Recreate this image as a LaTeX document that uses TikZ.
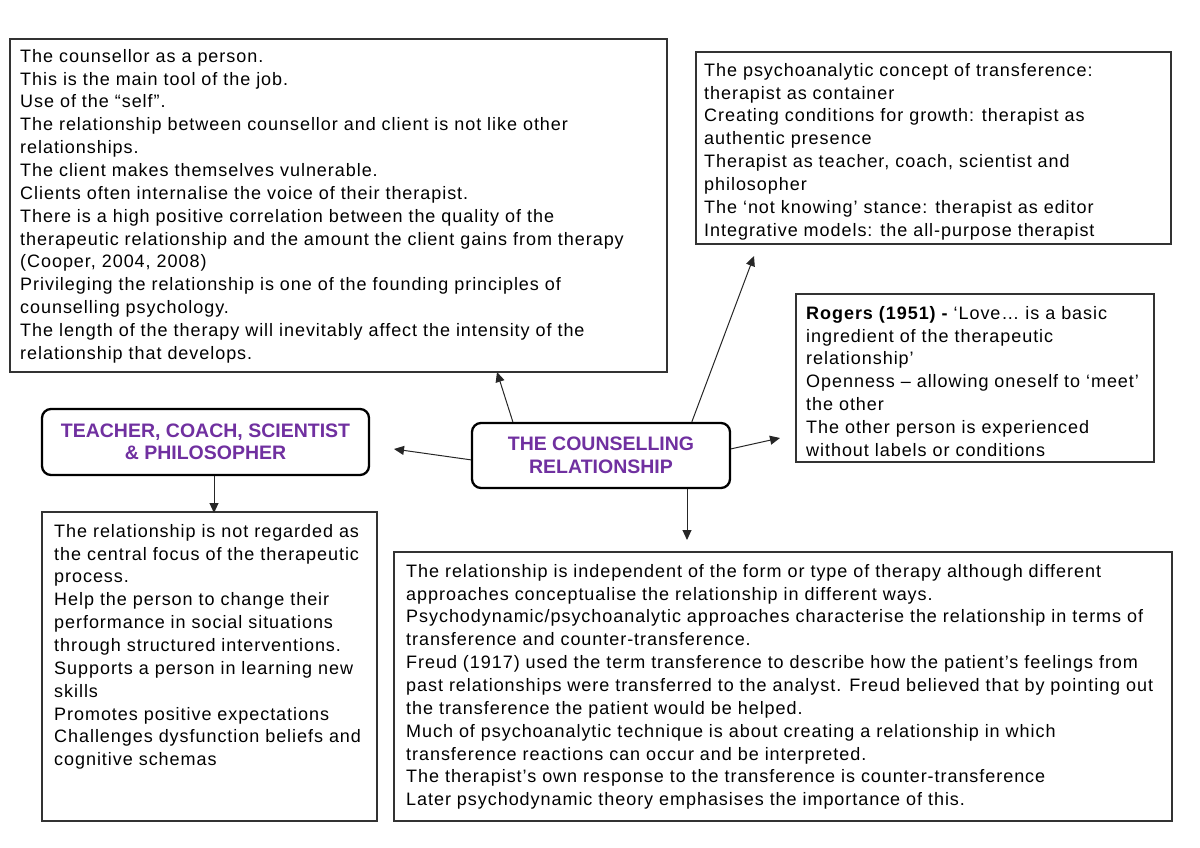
\documentclass[tikz,border=0pt]{standalone}
\usepackage{fontspec}
\setmainfont{Liberation Sans}
\newfontfamily\bodyfont[LetterSpace=5.3]{Liberation Sans}
\newfontfamily\headfont{Liberation Sans}
\usetikzlibrary{arrows.meta,calc}
\definecolor{headpurple}{HTML}{7030A0}
\tikzset{
  plainbox/.style={draw=black!80, line width=1.2pt, fill=white},
  roundbox/.style={draw=black, line width=2.3pt, rounded corners=9pt, fill=white},
  bodytext/.style={font={\bodyfont\fontsize{18}{22.85}\selectfont}, align=left, inner sep=0pt, anchor=north west},
  headtext/.style={font={\headfont\bfseries\fontsize{19.5}{22.5}\selectfont}, text=headpurple, align=center, inner sep=0pt},
  arr/.style={draw=black!85, line width=1pt, -{Triangle[length=10pt,width=9pt]}}
}
\begin{document}
\begin{tikzpicture}[x=1pt,y=-1pt]
\useasboundingbox (0,0) rectangle (1200,848);
% boxes
\draw[plainbox] (10,39) rectangle (667,372);
\draw[plainbox] (696,52) rectangle (1171,244);
\draw[plainbox] (796,294) rectangle (1154,462);
\draw[plainbox] (42,512) rectangle (377,821);
\draw[plainbox] (394,552) rectangle (1172,821);
% central and teacher nodes
\node[roundbox, minimum width=258pt, minimum height=65pt, inner sep=0pt] (c) at (601,455.5) {};
\node[headtext] (ctext) at (c) {THE COUNSELLING\\RELATIONSHIP};
\node[roundbox, minimum width=327pt, minimum height=66pt, inner sep=0pt] (teach) at (205.5,442) {};
\node[headtext] (ttext) at (teach) {TEACHER, COACH, SCIENTIST\\\& PHILOSOPHER};
% texts
\node[bodytext] (tl) at (20,49) {The counsellor as a person.\\
This is the main tool of the job.\\
Use of the “self”.\\
The relationship between counsellor and client is not like other\\
relationships.\\
The client makes themselves vulnerable.\\
Clients often internalise the voice of their therapist.\\
There is a high positive correlation between the quality of the\\
therapeutic relationship and the amount the client gains from therapy\\
(Cooper, 2004, 2008)\\
Privileging the relationship is one of the founding principles of\\
counselling psychology.\\
The length of the therapy will inevitably affect the intensity of the\\
relationship that develops.};
\node[bodytext] (tr) at (704,63) {The psychoanalytic concept of transference:\\
therapist as container\\
Creating conditions for growth: therapist as\\
authentic presence\\
Therapist as teacher, coach, scientist and\\
philosopher\\
The ‘not knowing’ stance: therapist as editor\\
Integrative models: the all-purpose therapist};
\node[bodytext] (rog) at (806,306) {{\bfseries Rogers (1951) -} ‘Love… is a basic\\
ingredient of the therapeutic\\
relationship’\\
Openness – allowing oneself to ‘meet’\\
the other\\
The other person is experienced\\
without labels or conditions};
\node[bodytext] (bl) at (54,524) {The relationship is not regarded as\\
the central focus of the therapeutic\\
process.\\
Help the person to change their\\
performance in social situations\\
through structured interventions.\\
Supports a person in learning new\\
skills\\
Promotes positive expectations\\
Challenges dysfunction beliefs and\\
cognitive schemas};
\node[bodytext] (br) at (406,564) {The relationship is independent of the form or type of therapy although different\\
approaches conceptualise the relationship in different ways.\\
Psychodynamic/psychoanalytic approaches characterise the relationship in terms of\\
transference and counter-transference.\\
Freud (1917) used the term transference to describe how the patient’s feelings from\\
past relationships were transferred to the analyst. Freud believed that by pointing out\\
the transference the patient would be helped.\\
Much of psychoanalytic technique is about creating a relationship in which\\
transference reactions can occur and be interpreted.\\
The therapist’s own response to the transference is counter-transference\\
Later psychodynamic theory emphasises the importance of this.};
% arrow tips
\coordinate (t1) at (497,372);
\coordinate (t2) at (754,256);
\coordinate (t3) at (394,449);
\coordinate (t4) at (780,438);
\coordinate (t5) at (687,540);
\coordinate (t6) at (214,513);
% connectors
\draw[arr] ([xshift=42pt]c.north west) -- (t1);
\draw[arr] ([xshift=221pt]c.north west) -- (t2);
\draw[arr] ([yshift=-38pt]c.north west) -- (t3);
\draw[arr] ([yshift=-27pt]c.north east) -- (t4);
\draw[arr] (t5 |- c.south) -- (t5);
\draw[arr] (t6 |- teach.south) -- (t6);
\end{tikzpicture}
\end{document}
